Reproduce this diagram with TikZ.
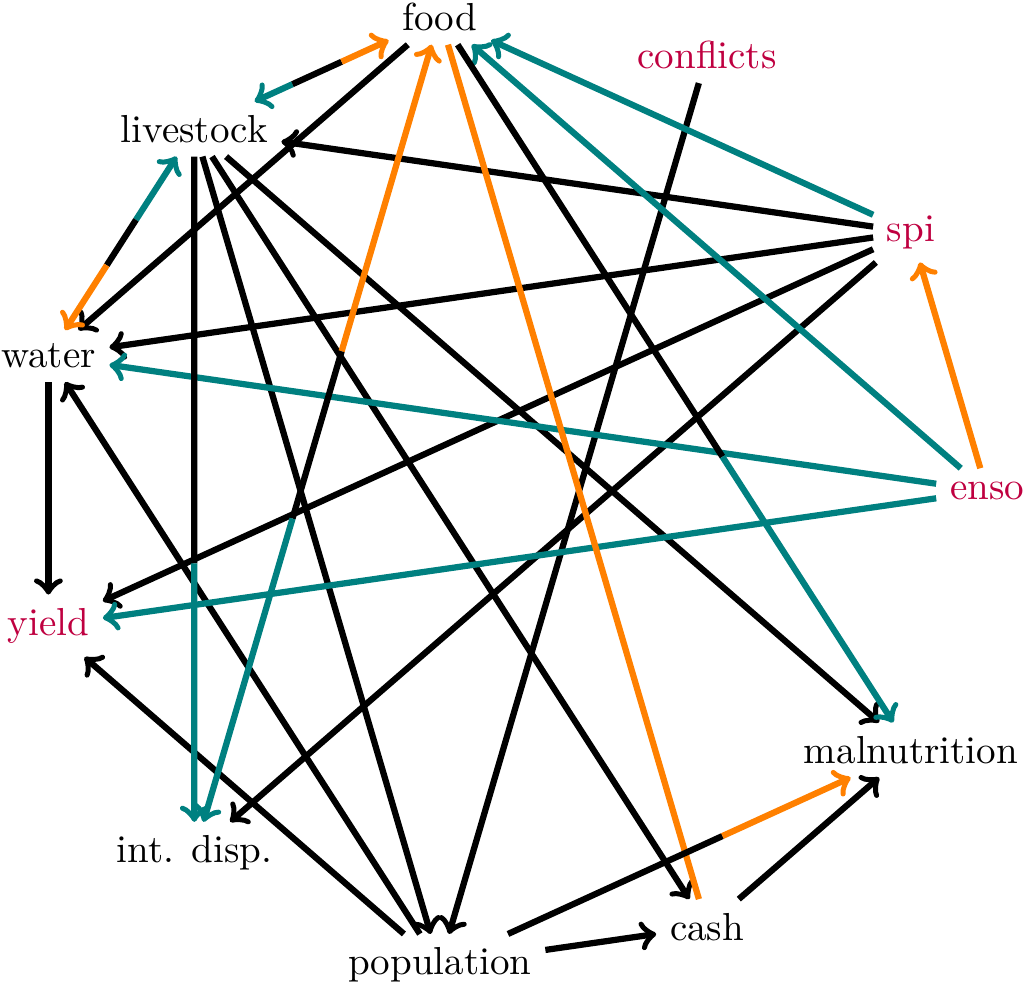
\documentclass[tikz,border=0pt]{standalone}
\usetikzlibrary{calc}
\begin{document}
\begin{tikzpicture}[
  lnk/.style={line width=1.6pt},
  exo/.style={text=purple}
]
\useasboundingbox (-4.572,-4.437) rectangle (4.653,4.419);
\def\R{4.311cm}
\node (F) at (98.18:\R) {food};
\node (L) at (130.91:\R) {livestock};
\node (W) at (163.64:\R) {water};
\node[exo] (Y) at (196.36:\R) {yield};
\node (I) at (229.09:\R) {int. disp.};
\node (P) at (261.82:\R) {population};
\node (Ca) at (294.55:\R) {cash};
\node (M) at (327.27:\R) {malnutrition};
\node[exo] (E) at (0:\R) {enso};
\node[exo] (S) at (32.73:\R) {spi};
\node[exo] (C) at (65.45:\R) {conflicts};

% plain black edges
\draw[lnk,->] (F) -- (W);
\draw[lnk,->] (C) -- (P);
\draw[lnk,->] (S) -- (L);
\draw[lnk,->] (S) -- (W);
\draw[lnk,->] (S) -- (Y);
\draw[lnk,->] (S) -- (I);
\draw[lnk,->] (W) -- (Y);
\draw[lnk,->] (P) -- (W);
\draw[lnk,->] (P) -- (Y);
\draw[lnk,->] (L) -- (P);
\draw[lnk,->] (L) -- (Ca);
\draw[lnk,->] (L) -- (M);
\draw[lnk,->] (P) -- (Ca);
\draw[lnk,->] (Ca) -- (M);

% fully coloured edges
\draw[lnk,teal,->] (S) -- (F);
\draw[lnk,teal,->] (E) -- (F);
\draw[lnk,teal,->] (E) -- (W);
\draw[lnk,teal,->] (E) -- (Y);
\draw[lnk,orange,->] (E) -- (S);
\draw[lnk,orange] (F) -- (Ca);

% black then coloured
\draw[lnk] (F) -- ($(F)!0.6!(M)$);
\draw[lnk,teal,->] ($(F)!0.6!(M)$) -- (M);
\draw[lnk] (L) -- ($(L)!0.6!(I)$);
\draw[lnk,teal,->] ($(L)!0.6!(I)$) -- (I);
\draw[lnk] (P) -- ($(P)!0.6!(M)$);
\draw[lnk,orange,->] ($(P)!0.6!(M)$) -- (M);

% two-way edges
\draw[lnk,teal,<-] (L) -- ($(L)!0.4!(F)$);
\draw[lnk] ($(L)!0.4!(F)$) -- ($(L)!0.6!(F)$);
\draw[lnk,orange,->] ($(L)!0.6!(F)$) -- (F);

\draw[lnk,teal,<-] (L) -- ($(L)!0.4!(W)$);
\draw[lnk] ($(L)!0.4!(W)$) -- ($(L)!0.6!(W)$);
\draw[lnk,orange,->] ($(L)!0.6!(W)$) -- (W);

\draw[lnk,orange,<-] (F) -- ($(F)!0.4!(I)$);
\draw[lnk] ($(F)!0.4!(I)$) -- ($(F)!0.6!(I)$);
\draw[lnk,teal,->] ($(F)!0.6!(I)$) -- (I);
\end{tikzpicture}
\end{document}
